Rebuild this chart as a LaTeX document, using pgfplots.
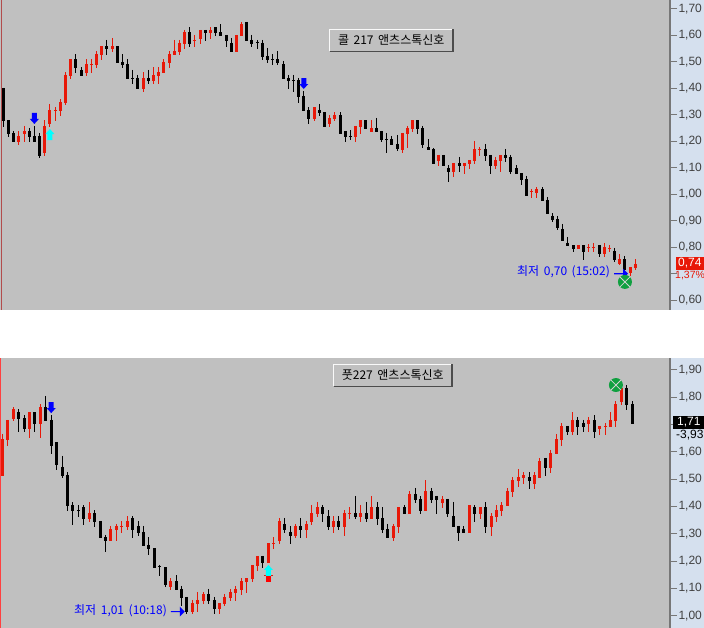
\documentclass[border=0pt]{standalone}
\usepackage{fontspec}
\usepackage{pgfplots}
\usepackage{pgfplotstable}
\pgfplotsset{compat=1.18}
\setmainfont{Liberation Sans}
\newfontfamily\kr[WordSpace=1.7]{Noto Sans CJK KR}
\definecolor{panel}{HTML}{C0C0C0}
\definecolor{strip}{HTML}{D5E0EE}
\definecolor{cred}{HTML}{E81808}
\definecolor{cgreen}{HTML}{10A040}
\definecolor{axgray}{HTML}{777777}
\definecolor{acyan}{HTML}{00FFFF}
\definecolor{ablue}{HTML}{0000FF}
\definecolor{ared}{HTML}{FF0000}

\pgfdeclareplotmark{dnarrow}{%
 \pgfpathmoveto{\pgfqpoint{0pt}{0pt}}\pgfpathlineto{\pgfqpoint{4.5pt}{5pt}}\pgfpathlineto{\pgfqpoint{2.5pt}{5pt}}%
 \pgfpathlineto{\pgfqpoint{2.5pt}{11pt}}\pgfpathlineto{\pgfqpoint{-2.5pt}{11pt}}\pgfpathlineto{\pgfqpoint{-2.5pt}{5pt}}%
 \pgfpathlineto{\pgfqpoint{-4.5pt}{5pt}}\pgfpathclose\pgfusepathqfill}
\pgfdeclareplotmark{uparrow}{%
 \pgfpathmoveto{\pgfqpoint{0pt}{0pt}}\pgfpathlineto{\pgfqpoint{4.5pt}{-5pt}}\pgfpathlineto{\pgfqpoint{2.5pt}{-5pt}}%
 \pgfpathlineto{\pgfqpoint{2.5pt}{-11pt}}\pgfpathlineto{\pgfqpoint{-2.5pt}{-11pt}}\pgfpathlineto{\pgfqpoint{-2.5pt}{-5pt}}%
 \pgfpathlineto{\pgfqpoint{-4.5pt}{-5pt}}\pgfpathclose\pgfusepathqfill}
\pgfdeclareplotmark{rtarrow}{%
 \pgfpathmoveto{\pgfqpoint{0pt}{0pt}}\pgfpathlineto{\pgfqpoint{-5pt}{5pt}}\pgfpathlineto{\pgfqpoint{-5pt}{0.6pt}}%
 \pgfpathlineto{\pgfqpoint{-14pt}{0.6pt}}\pgfpathlineto{\pgfqpoint{-14pt}{-0.6pt}}\pgfpathlineto{\pgfqpoint{-5pt}{-0.6pt}}%
 \pgfpathlineto{\pgfqpoint{-5pt}{-5pt}}\pgfpathclose\pgfusepathqfill}
\pgfdeclareplotmark{xcircle}{%
 \pgfsetfillcolor{cgreen}\pgfpathcircle{\pgfpointorigin}{7pt}\pgfusepathqfill
 \pgfsetstrokecolor{panel!70!white}\pgfsetlinewidth{0.8pt}%
 \pgfpathmoveto{\pgfqpoint{-5pt}{-5pt}}\pgfpathlineto{\pgfqpoint{5pt}{5pt}}%
 \pgfpathmoveto{\pgfqpoint{-5pt}{5pt}}\pgfpathlineto{\pgfqpoint{5pt}{-5pt}}\pgfusepathqstroke}
\pgfdeclareplotmark{bodysquare}{%
 \pgfpathrectangle{\pgfqpoint{-2.5pt}{-3pt}}{\pgfqpoint{5pt}{6pt}}\pgfusepathqfill}

\newcommand{\candles}[2]{%
 \addplot[draw=none,mark=none,forget plot,error bars/.cd,y dir=minus,y explicit,error mark=none,
   error bar style={draw=#1,solid,line width=1pt}]
   table[x=i,y=h,y error expr=\thisrow{h}-\thisrow{l}] {#2};
 \addplot[draw=none,mark=none,forget plot,error bars/.cd,y dir=minus,y explicit,error mark=none,
   error bar style={draw=#1,solid,line width=3pt}]
   table[x=i,y=bh,y error expr=\thisrow{bh}-\thisrow{bl}] {#2};}

% columns: candle number, low, body bottom, body top, high
\pgfplotstableread{
i l bl bh h
3 1.186 1.197 1.220 1.239
4 1.197 1.227 1.239 1.258
8 1.144 1.156 1.258 1.280
9 1.254 1.265 1.318 1.341
10 1.276 1.314 1.318 1.329
11 1.295 1.314 1.348 1.359
12 1.337 1.344 1.450 1.461
13 1.435 1.446 1.510 1.510
16 1.446 1.458 1.491 1.510
17 1.458 1.488 1.491 1.510
18 1.476 1.488 1.529 1.541
19 1.507 1.525 1.559 1.559
21 1.537 1.548 1.559 1.590
27 1.386 1.397 1.439 1.461
29 1.416 1.427 1.450 1.480
30 1.416 1.446 1.461 1.480
31 1.458 1.458 1.499 1.510
32 1.476 1.495 1.529 1.541
33 1.525 1.525 1.541 1.582
34 1.525 1.537 1.571 1.582
35 1.548 1.567 1.612 1.620
37 1.556 1.578 1.582 1.601
38 1.567 1.586 1.620 1.620
40 1.586 1.608 1.620 1.631
45 1.537 1.537 1.601 1.601
46 1.597 1.597 1.642 1.650
60 1.276 1.284 1.329 1.329
63 1.254 1.265 1.288 1.299
64 1.276 1.284 1.299 1.310
68 1.197 1.216 1.258 1.258
69 1.227 1.254 1.280 1.280
71 1.235 1.235 1.250 1.280
77 1.156 1.167 1.231 1.231
78 1.175 1.227 1.250 1.258
79 1.235 1.246 1.280 1.280
84 1.107 1.125 1.148 1.148
87 1.065 1.084 1.118 1.118
89 1.076 1.107 1.118 1.118
90 1.095 1.114 1.129 1.129
91 1.114 1.125 1.171 1.201
92 1.144 1.167 1.171 1.178
95 1.095 1.107 1.129 1.141
96 1.084 1.125 1.148 1.148
102 0.986 1.008 1.012 1.020
103 0.986 1.005 1.020 1.027
111 0.793 0.793 0.808 0.808
113 0.782 0.797 0.801 0.812
114 0.782 0.797 0.801 0.816
116 0.763 0.774 0.801 0.816
117 0.782 0.793 0.797 0.808
119 0.733 0.737 0.755 0.774
121 0.691 0.703 0.725 0.725
122 0.714 0.722 0.737 0.755
}\topred
\pgfplotstableread{
i l bl bh h
0 1.255 1.278 1.401 1.401
1 1.216 1.227 1.280 1.280
2 1.197 1.197 1.231 1.239
5 1.197 1.216 1.239 1.250
6 1.197 1.197 1.220 1.258
7 1.137 1.144 1.220 1.231
14 1.458 1.476 1.510 1.529
15 1.446 1.446 1.469 1.480
20 1.525 1.548 1.559 1.582
22 1.495 1.495 1.559 1.559
23 1.476 1.488 1.499 1.529
24 1.435 1.435 1.491 1.510
25 1.416 1.435 1.439 1.469
26 1.397 1.397 1.439 1.450
28 1.416 1.427 1.439 1.469
36 1.556 1.567 1.612 1.631
39 1.578 1.608 1.620 1.620
41 1.597 1.608 1.631 1.631
42 1.597 1.597 1.612 1.642
43 1.556 1.578 1.601 1.601
44 1.537 1.537 1.571 1.590
47 1.578 1.578 1.650 1.650
48 1.556 1.567 1.582 1.601
49 1.548 1.571 1.575 1.582
50 1.507 1.518 1.571 1.582
51 1.495 1.507 1.522 1.552
52 1.488 1.507 1.510 1.529
53 1.488 1.495 1.510 1.541
54 1.435 1.435 1.491 1.503
55 1.397 1.427 1.439 1.450
56 1.386 1.427 1.431 1.450
57 1.344 1.367 1.431 1.439
58 1.314 1.314 1.371 1.390
59 1.265 1.284 1.318 1.329
61 1.295 1.307 1.318 1.341
62 1.254 1.254 1.310 1.310
65 1.227 1.227 1.299 1.310
66 1.197 1.216 1.239 1.239
67 1.205 1.216 1.220 1.242
70 1.246 1.246 1.280 1.280
72 1.235 1.235 1.250 1.288
73 1.197 1.205 1.239 1.239
74 1.156 1.205 1.208 1.231
75 1.186 1.186 1.208 1.220
76 1.163 1.171 1.190 1.224
80 1.227 1.246 1.280 1.280
81 1.175 1.186 1.250 1.258
82 1.167 1.167 1.178 1.208
83 1.114 1.114 1.171 1.175
85 1.107 1.107 1.148 1.148
86 1.046 1.084 1.099 1.110
88 1.084 1.107 1.118 1.141
93 1.125 1.144 1.171 1.190
94 1.076 1.107 1.148 1.148
97 1.122 1.137 1.148 1.171
98 1.076 1.084 1.141 1.148
99 1.076 1.076 1.099 1.110
100 1.035 1.054 1.080 1.080
101 0.993 0.993 1.057 1.069
104 0.974 0.974 1.020 1.027
105 0.925 0.925 0.978 0.990
106 0.895 0.903 0.918 0.929
107 0.865 0.872 0.907 0.918
108 0.823 0.823 0.869 0.888
109 0.805 0.805 0.816 0.839
110 0.782 0.793 0.808 0.808
112 0.752 0.782 0.808 0.808
115 0.763 0.774 0.808 0.808
118 0.744 0.752 0.786 0.797
120 0.699 0.714 0.755 0.767
}\topblack
\pgfplotstableread{
i l bl bh h
0 1.512 1.512 1.647 1.666
1 1.622 1.644 1.717 1.717
2 1.713 1.721 1.757 1.764
5 1.651 1.684 1.746 1.746
7 1.651 1.702 1.764 1.775
16 1.343 1.354 1.376 1.416
20 1.274 1.274 1.318 1.329
21 1.274 1.314 1.329 1.336
22 1.303 1.325 1.329 1.347
23 1.314 1.325 1.347 1.365
31 1.094 1.105 1.127 1.138
35 1.006 1.014 1.047 1.058
36 1.014 1.043 1.058 1.087
37 1.043 1.054 1.080 1.087
40 1.006 1.025 1.047 1.047
41 1.036 1.043 1.069 1.080
42 1.054 1.065 1.087 1.098
43 1.054 1.083 1.098 1.109
44 1.076 1.094 1.127 1.138
45 1.083 1.124 1.138 1.138
46 1.124 1.134 1.186 1.186
47 1.164 1.182 1.219 1.219
49 1.193 1.193 1.266 1.266
50 1.244 1.263 1.266 1.288
51 1.263 1.274 1.347 1.358
54 1.285 1.292 1.329 1.336
56 1.285 1.314 1.336 1.347
57 1.332 1.343 1.376 1.406
58 1.362 1.373 1.398 1.417
61 1.303 1.325 1.347 1.365
63 1.292 1.325 1.376 1.387
64 1.354 1.373 1.376 1.398
66 1.343 1.362 1.376 1.406
68 1.354 1.354 1.398 1.439
72 1.274 1.285 1.329 1.336
73 1.303 1.325 1.398 1.398
75 1.373 1.373 1.446 1.457
78 1.384 1.384 1.457 1.497
81 1.395 1.413 1.428 1.439
86 1.303 1.303 1.405 1.405
88 1.354 1.372 1.398 1.398
90 1.292 1.325 1.365 1.376
91 1.343 1.361 1.387 1.405
92 1.365 1.384 1.405 1.416
93 1.402 1.402 1.457 1.468
94 1.435 1.453 1.497 1.508
95 1.471 1.493 1.508 1.537
96 1.482 1.504 1.515 1.526
98 1.464 1.482 1.515 1.526
99 1.504 1.504 1.567 1.578
101 1.523 1.541 1.596 1.607
102 1.592 1.592 1.647 1.666
103 1.622 1.644 1.695 1.706
105 1.662 1.673 1.717 1.746
108 1.673 1.702 1.717 1.728
110 1.662 1.684 1.695 1.695
111 1.662 1.691 1.695 1.706
112 1.691 1.691 1.717 1.746
113 1.691 1.713 1.775 1.786
114 1.772 1.783 1.834 1.834
}\botred
\pgfplotstableread{
i l bl bh h
3 1.673 1.721 1.746 1.757
4 1.673 1.684 1.724 1.735
6 1.673 1.702 1.746 1.746
8 1.713 1.713 1.764 1.805
9 1.592 1.622 1.717 1.735
10 1.534 1.552 1.636 1.636
11 1.504 1.512 1.545 1.585
12 1.384 1.402 1.515 1.526
13 1.332 1.384 1.405 1.416
14 1.362 1.384 1.387 1.405
15 1.332 1.354 1.398 1.405
17 1.325 1.343 1.376 1.387
18 1.285 1.285 1.347 1.347
19 1.233 1.274 1.288 1.296
24 1.285 1.314 1.358 1.365
25 1.292 1.303 1.329 1.347
26 1.255 1.255 1.307 1.329
27 1.222 1.244 1.259 1.288
28 1.175 1.175 1.248 1.248
29 1.145 1.178 1.182 1.186
30 1.105 1.112 1.178 1.178
32 1.094 1.094 1.127 1.149
33 1.036 1.065 1.098 1.109
34 1.006 1.014 1.069 1.069
38 1.043 1.054 1.080 1.098
39 1.006 1.025 1.058 1.069
48 1.175 1.193 1.219 1.219
52 1.303 1.314 1.336 1.358
53 1.263 1.292 1.307 1.329
55 1.285 1.314 1.329 1.358
59 1.343 1.373 1.398 1.406
60 1.314 1.325 1.365 1.387
62 1.314 1.325 1.347 1.365
65 1.354 1.362 1.376 1.439
67 1.343 1.354 1.376 1.417
69 1.332 1.354 1.398 1.417
70 1.303 1.314 1.358 1.398
71 1.285 1.285 1.318 1.336
74 1.373 1.373 1.398 1.406
76 1.413 1.424 1.446 1.468
77 1.373 1.384 1.428 1.439
79 1.413 1.424 1.457 1.468
80 1.373 1.424 1.439 1.439
82 1.362 1.373 1.428 1.428
83 1.325 1.325 1.365 1.417
84 1.274 1.303 1.329 1.329
85 1.303 1.303 1.318 1.328
87 1.343 1.372 1.398 1.405
89 1.303 1.325 1.398 1.416
97 1.464 1.493 1.508 1.526
100 1.512 1.541 1.578 1.578
104 1.662 1.673 1.695 1.695
106 1.662 1.691 1.717 1.728
107 1.673 1.691 1.706 1.717
109 1.651 1.673 1.717 1.735
115 1.753 1.772 1.834 1.845
116 1.702 1.702 1.775 1.786
}\botblack

\pgfplotsset{panelaxis/.style={
  scale only axis,width=670pt,anchor=south west,
  axis background/.style={fill=panel},
  axis x line=none,axis y line*=right,
  y axis line style={axgray,line width=1.6pt},
  ytick style={axgray,line width=1pt},
  tick align=outside,major tick length=7pt,
  yticklabel style={font=\fontsize{12}{12}\selectfont,text=black!75,xshift=-2pt},
  /pgf/number format/assume math mode=true,
  clip=true}}
\newcommand{\btn}[5]{% left,top,right,bottom,text (px from top-left)
  \fill[panel] (#1pt,628pt-#2pt) rectangle (#3pt,628pt-#4pt);
  \draw[white!90!panel,line width=1.5pt] (#1pt,628pt-#4pt) -- (#1pt,628pt-#2pt) -- (#3pt,628pt-#2pt);
  \draw[black!70,line width=1.5pt] (#1pt,628pt-#4pt) -- (#3pt,628pt-#4pt) -- (#3pt,628pt-#2pt);
  \node[font=\kr\fontsize{12}{12}\selectfont,text=black,inner sep=0pt] at ({(#1+#3)/2*1pt},{628pt-(#2+#4)/2*1pt}) {#5};}

\begin{document}
\begin{tikzpicture}[x=1pt,y=1pt]
\path[use as bounding box,fill=white] (0,0) rectangle (704pt,628pt);
\fill[strip] (670pt,318pt) rectangle (704pt,628pt);
\fill[strip] (670pt,0pt) rectangle (704pt,270pt);

\begin{axis}[panelaxis,at={(0pt,318pt)},height=310pt,
  xmin=-0.637,xmax=128.7,ymin=0.563,ymax=1.733,
  ytick={0.6,0.7,0.8,0.9,1.0,1.1,1.2,1.3,1.4,1.5,1.6,1.7},
  yticklabels={{0,60},{},{0,80},{0,90},{1,00},{1,10},{1,20},{1,30},{1,40},{1,50},{1,60},{1,70}}]
\candles{cred}{\topred}
\candles{black}{\topblack}
\addplot[only marks,mark=dnarrow,color=ablue,mark options={fill=ablue,draw=none}] coordinates {(6,1.265)(58,1.397)};
\addplot[only marks,mark=uparrow,color=acyan,mark options={fill=acyan,draw=none}] coordinates {(9,1.246)};
\addplot[only marks,mark=rtarrow,color=ablue,mark options={fill=ablue,draw=none}] coordinates {(120.6,0.70)};
\addplot[only marks,mark=xcircle,mark options={draw=none}] coordinates {(120,0.669)};
\end{axis}

\begin{axis}[panelaxis,at={(0pt,0pt)},height=270pt,
  xmin=-0.429,xmax=122.96,ymin=0.955,ymax=1.944,
  ytick={1.0,1.1,1.2,1.3,1.4,1.5,1.6,1.7,1.8,1.9},
  yticklabels={{1,00},{1,10},{1,20},{1,30},{1,40},{1,50},{1,60},{},{1,80},{1,90}}]
\candles{cred}{\botred}
\candles{black}{\botblack}
\addplot[only marks,mark=-,mark size=4.5pt,mark options={draw=cred,line width=1pt}] coordinates {(49,1.149)};
\addplot[only marks,mark=bodysquare,color=ared,mark options={fill=ared,draw=none}] coordinates {(49,1.135)};
\addplot[only marks,mark=dnarrow,color=ablue,mark options={fill=ablue,draw=none}] coordinates {(9,1.742)};
\addplot[only marks,mark=uparrow,color=acyan,mark options={fill=acyan,draw=none}] coordinates {(49,1.186)};
\addplot[only marks,mark=rtarrow,color=ablue,mark options={fill=ablue,draw=none}] coordinates {(33.6,1.015)};
\addplot[only marks,mark=xcircle,mark options={draw=none}] coordinates {(113,1.845)};
\end{axis}

% left edges
\fill[red!40!gray] (0.5pt,318pt) rectangle (2pt,628pt);
\fill[red!75!white] (0pt,0pt) rectangle (1.3pt,270pt);

% title buttons
\btn{329.5}{29.5}{453}{51.5}{콜 217 앤츠스톡신호}
\btn{333.5}{364.5}{452}{386.5}{풋227 앤츠스톡신호}

% lowest-price notes
\node[anchor=west,inner sep=0pt,text=ablue,font=\kr\fontsize{12}{12}\selectfont] at (517pt,356pt) {최저 0,70 (15:02)};
\node[anchor=west,inner sep=0pt,text=ablue,font=\kr\fontsize{12}{12}\selectfont] at (74pt,17pt) {최저 1,01 (10:18)};

% current-price flags
\fill[cred] (676pt,358pt) rectangle (704pt,371pt);
\node[anchor=west,inner sep=0pt,text=white,font=\fontsize{12}{12}\selectfont] at (678pt,364.5pt) {0,74};
\node[anchor=west,inner sep=0pt,text=cred,font=\fontsize{10.5}{12}\selectfont] at (675pt,352pt) {1,37\%};
\fill[black] (673pt,199pt) rectangle (704pt,212pt);
\node[anchor=west,inner sep=0pt,text=white,font=\fontsize{12}{12}\selectfont] at (677pt,205.5pt) {1,71};
\node[anchor=west,inner sep=0pt,text=black,font=\fontsize{12}{12}\selectfont] at (676pt,193pt) {-3,93};
\end{tikzpicture}
\end{document}
